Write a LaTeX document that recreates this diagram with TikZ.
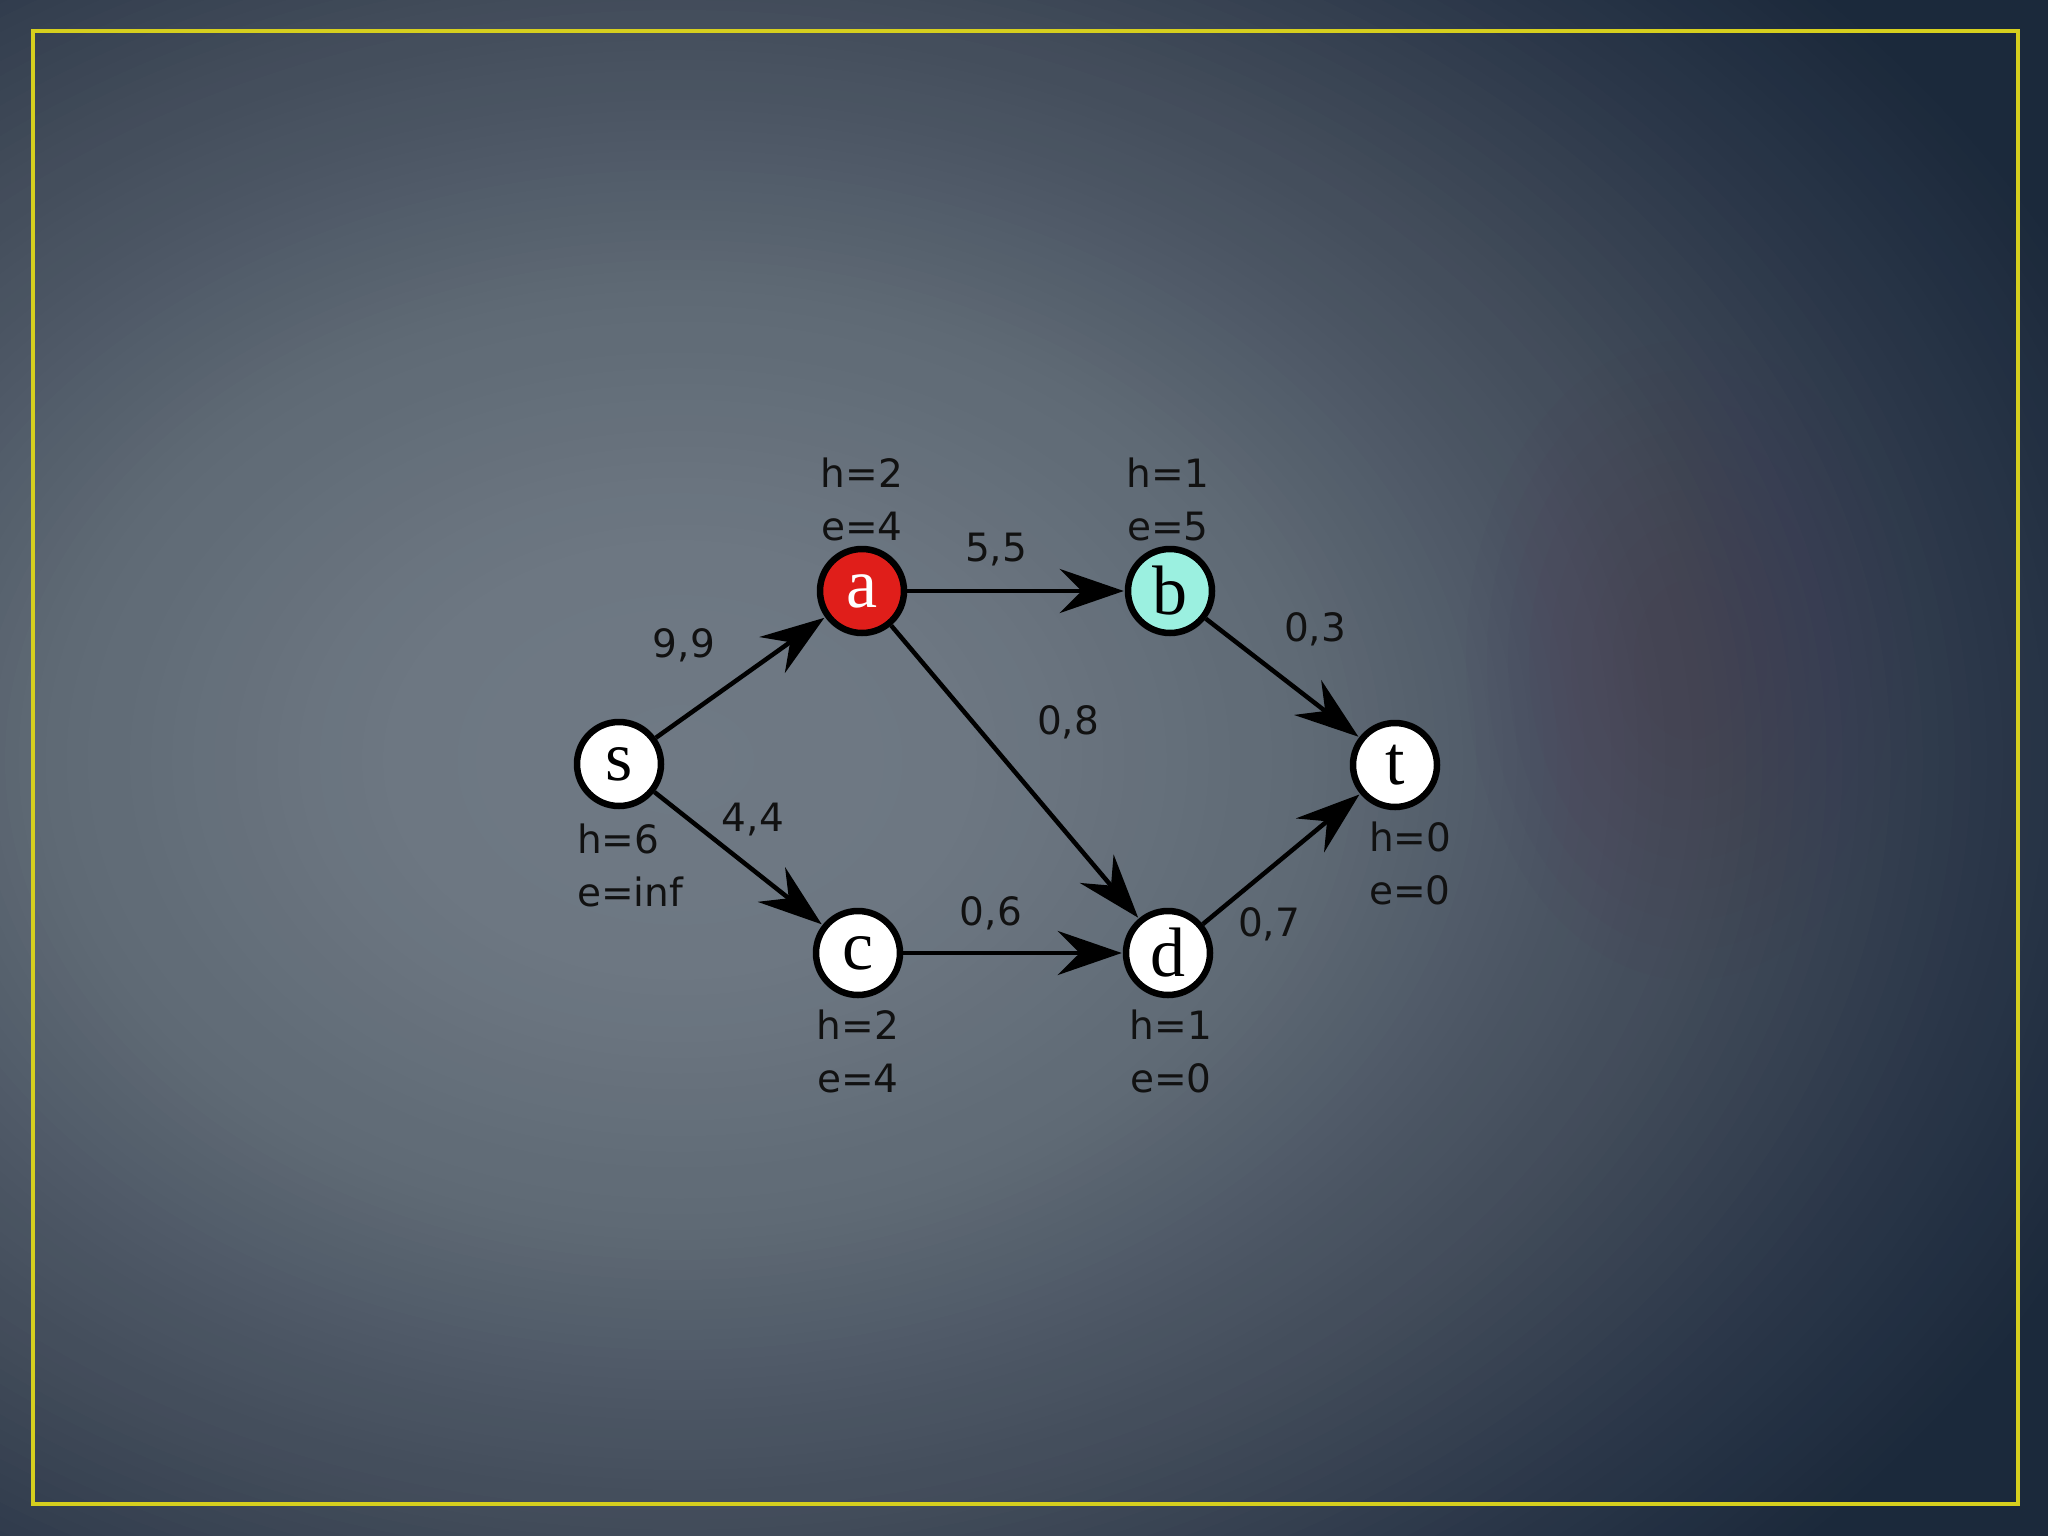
\documentclass[tikz,border=0pt]{standalone}
\usepackage{fontspec}
\setmainfont{Liberation Serif}
\newfontfamily\lblfont{DejaVu Sans}
\usetikzlibrary{arrows.meta}
\definecolor{g0}{HTML}{1B293B}
\definecolor{g1}{HTML}{2A3648}
\definecolor{g2}{HTML}{404A58}
\definecolor{g3}{HTML}{4E5866}
\definecolor{g4}{HTML}{5F6A75}
\definecolor{g5}{HTML}{6D7782}
\definecolor{g6}{HTML}{6F7984}
\definecolor{glowP}{HTML}{4A2E52}
\definecolor{frameY}{HTML}{D6CF1E}
\definecolor{nodeRed}{HTML}{E01E1A}
\definecolor{nodeAqua}{HTML}{9BF0E0}
\definecolor{txt}{HTML}{111111}
\tikzset{
  vert/.style={circle, draw=black, line width=6.5pt, minimum size=84pt, inner sep=0pt, fill=white, font=\fontsize{70}{70}\selectfont},
  edge/.style={line width=4.5pt, draw=black, -{Stealth[length=64pt,width=44pt,inset=22pt]}, shorten >=1pt},
  elab/.style={font=\lblfont\fontsize{39}{53}\selectfont, text=txt, inner sep=0pt},
  vlab/.style={font=\lblfont\fontsize{39}{53}\selectfont, text=txt, inner sep=0pt},
  frame/.style={draw=frameY, line width=3.5pt}
}
\begin{document}
\begin{tikzpicture}[x=1pt,y=-1pt]
\useasboundingbox (0,0) rectangle (2048,1536);
\begin{scope}
  \clip (0,0) rectangle (2048,1536);
  \fill[g0] (0,0) rectangle (2048,1536);
  \foreach \ra/\rb/\ca/\cb in {1150/980/g0/g1, 980/790/g1/g2, 790/630/g2/g3, 630/470/g3/g4, 470/220/g4/g5, 220/0/g5/g6} {
    \foreach \j in {0,...,15} {
      \pgfmathsetmacro\rr{\ra+(\rb-\ra)*\j/16}
      \pgfmathtruncatemacro\pp{100*\j/16}
      \fill[\cb!\pp!\ca] (680,760) ellipse [x radius=1.35*\rr, y radius=\rr];
    }
  }
  \foreach \r in {320,290,...,80} {
    \fill[glowP, opacity=0.03] (1690,660) ellipse [x radius=0.7*\r, y radius=\r];
  }
\end{scope}
\draw[frame] (33,31) rectangle (2018,1504);
% vertices
\node[vert] (s) at (619,764) {s};
\node[vert, fill=nodeRed, text=white] (a) at (862,591) {a};
\node[vert, fill=nodeAqua] (b) at (1170,591) {b};
\node[vert] (c) at (858,953) {c};
\node[vert] (d) at (1168,953) {d};
\node[vert] (t) at (1395,765) {t};
% edges
\draw[edge] (s) -- (a);
\draw[edge] (s) -- (c);
\draw[edge] (a) -- (b);
\draw[edge] (a) -- (d);
\draw[edge] (b) -- (t);
\draw[edge] (c) -- (d);
\draw[edge] (d) -- (t);
% edge labels
\node[elab] (l1) at (684,645) {9,9};
\node[elab] (l2) at (996,550) {5,5};
\node[elab] (l3) at (1315,629) {0,3};
\node[elab] (l4) at (1068,722) {0,8};
\node[elab] (l5) at (753,820) {4,4};
\node[elab] (l6) at (991,913) {0,6};
\node[elab] (l7) at (1269,924) {0,7};
% vertex labels
\node[vlab, align=center] (la) at (862,499) {h=2\\e=4};
\node[vlab, align=center] (lb) at (1168,499) {h=1\\e=5};
\node[vlab, align=left, anchor=west] (ls) at (577,865) {h=6\\e=inf};
\node[vlab, align=center] (lc) at (858,1051) {h=2\\e=4};
\node[vlab, align=center] (ld) at (1171,1051) {h=1\\e=0};
\node[vlab, align=left, anchor=west] (lt) at (1369,863) {h=0\\e=0};
\end{tikzpicture}
\end{document}
